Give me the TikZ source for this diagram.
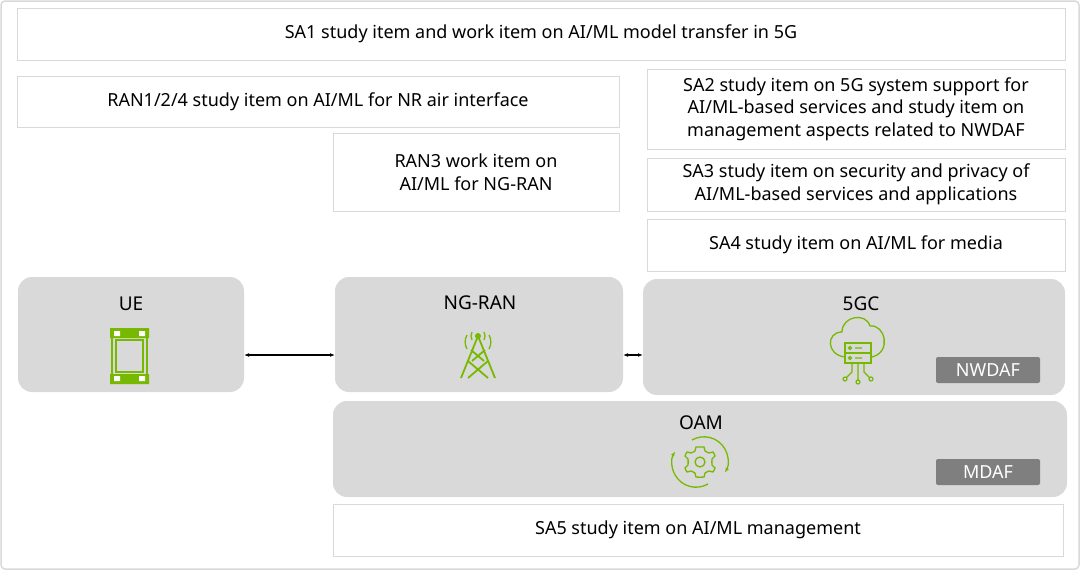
\documentclass[tikz,border=0pt]{standalone}
\usepackage{fontspec}
\setmainfont{Noto Sans}
\usetikzlibrary{arrows.meta}
\definecolor{nvg}{HTML}{76B900}
\definecolor{bx}{HTML}{D9D9D9}
\definecolor{dk}{HTML}{7F7F7F}
\begin{document}
\begin{tikzpicture}[x=1pt,y=-1pt,
 tb/.style={draw=bx,line width=1pt,fill=white,align=center,font=\fontsize{18}{22.5}\selectfont},
 gb/.style={fill=bx,draw=none,rounded corners=14pt},
 lab/.style={font=\fontsize{19}{22}\selectfont},
 tag/.style={fill=dk,rounded corners=2pt,text=white,font=\fontsize{18}{20}\selectfont,minimum width=104pt,minimum height=26pt,inner sep=0pt},
 ic/.style={draw=nvg,line width=1.8pt},
 ar/.style={{Latex[length=5pt]}-{Latex[length=5pt]},line width=1.3pt}]
\useasboundingbox (0,0) rectangle (1080,570);
\draw[bx,line width=1.5pt,rounded corners=4pt] (1,1) rectangle (1079,569);
\draw[tb] (17,8) rectangle (1065,60) node[midway] (sa1) {SA1 study item and work item on AI/ML model transfer in 5G};
\draw[tb] (17,76) rectangle (619,127) node[midway] (ran1) {RAN1/2/4 study item on AI/ML for NR air interface};
\draw[tb] (647,69) rectangle (1065,149) node[midway] (sa2) {SA2 study item on 5G system support for\\AI/ML-based services and study item on\\management aspects related to NWDAF};
\draw[tb] (333,133) rectangle (619,211) node[midway] (ran3) {RAN3 work item on\\AI/ML for NG-RAN};
\draw[tb] (647,158) rectangle (1065,211) node[midway] (sa3) {SA3 study item on security and privacy of\\AI/ML-based services and applications};
\draw[tb] (647,219) rectangle (1065,271) node[midway] (sa4) {SA4 study item on AI/ML for media};
\draw[tb] (333,504) rectangle (1063,556) node[midway] (sa5) {SA5 study item on AI/ML management};
\fill[gb] (18,277) rectangle (244,392);
\fill[gb] (335,277) rectangle (623,392);
\fill[gb] (643,279) rectangle (1065,395);
\fill[gb] (333,401) rectangle (1067,497);
\coordinate (ueR) at (244,355); \coordinate (ranL) at (335,355);
\coordinate (ranR) at (623,355); \coordinate (cnL) at (643,355);
\node[lab] (ue) at (131,304) {UE};
\node[lab] (ngran) at (480,303) {NG-RAN};
\node[lab] (cgc) at (861,304) {5GC};
\node[lab] (oam) at (701,423) {OAM};
\node[tag] (nwdaf) at (988,370) {NWDAF};
\node[tag] (mdaf) at (988,472) {MDAF};
\draw[ar] (ueR) -- (ranL);
\draw[ar] (ranR) -- (cnL);
% phone
\draw[ic,line width=2.5pt] (112,330) rectangle (147,382);
\fill[nvg] (110,328) rectangle (149,338) (110,374) rectangle (149,384);
\fill[white] (114,331) rectangle (120,336) (139,331) rectangle (145,336) (114,376) rectangle (120,381) (139,376) rectangle (145,381);
\draw[ic,line width=1.4pt] (116,340) rectangle (143,372);
% tower
\draw[ic] (478,336) -- (461,378) (478,336) -- (495,378) (468,361)--(488,378) (488,361)--(468,378) (471,350)--(484,361) (485,350)--(472,361);
\fill[nvg] (478,336) circle (3pt);
\draw[ic,line width=1.3pt] (472,332) arc (210:150:8) (484,332) arc (-30:30:8) (467,335) arc (210:150:14) (489,335) arc (-30:30:14);
% cloud
\draw[ic,line width=1.3pt] (845,357) .. controls (826,355) and (826,332) .. (842,332) .. controls (842,316) and (866,312) .. (870,326) .. controls (885,324) and (892,352) .. (872,357);
\draw[ic,line width=1.3pt] (845,343) rectangle (871,363) (845,353)--(871,353);
\draw[ic,line width=1.2pt] (850,348) circle (1.5) (850,358) circle (1.5) (855,348)--(862,348) (855,358)--(862,358);
\draw[ic,line width=1.2pt] (858,363)--(858,381) (852,363)--(852,372)--(846,378) (864,363)--(864,372)--(870,378);
\draw[nvg,line width=1.2pt] (858,382) circle (2) (845,379) circle (2) (871,379) circle (2);
% gear
\begin{scope}[shift={(700,462)}]
\draw[ic,line width=1.3pt] (0,0) circle (5);
\draw[ic,line width=1.3pt] plot[smooth cycle,tension=0.2] coordinates {(0,-15)(4,-15)(5,-11)(9,-9)(13,-10)(15,-6)(12,-3)(12,3)(15,6)(13,10)(9,9)(5,11)(4,15)(-4,15)(-5,11)(-9,9)(-13,10)(-15,6)(-12,3)(-12,-3)(-15,-6)(-13,-10)(-9,-9)(-5,-11)(-4,-15)};
\draw[ic,line width=1.3pt,-{Latex[length=5pt]}] (-8,-22) arc (240:390:24);
\draw[ic,line width=1.3pt,-{Latex[length=5pt]}] (8,22) arc (60:210:24);
\end{scope}
\end{tikzpicture}
\end{document}
